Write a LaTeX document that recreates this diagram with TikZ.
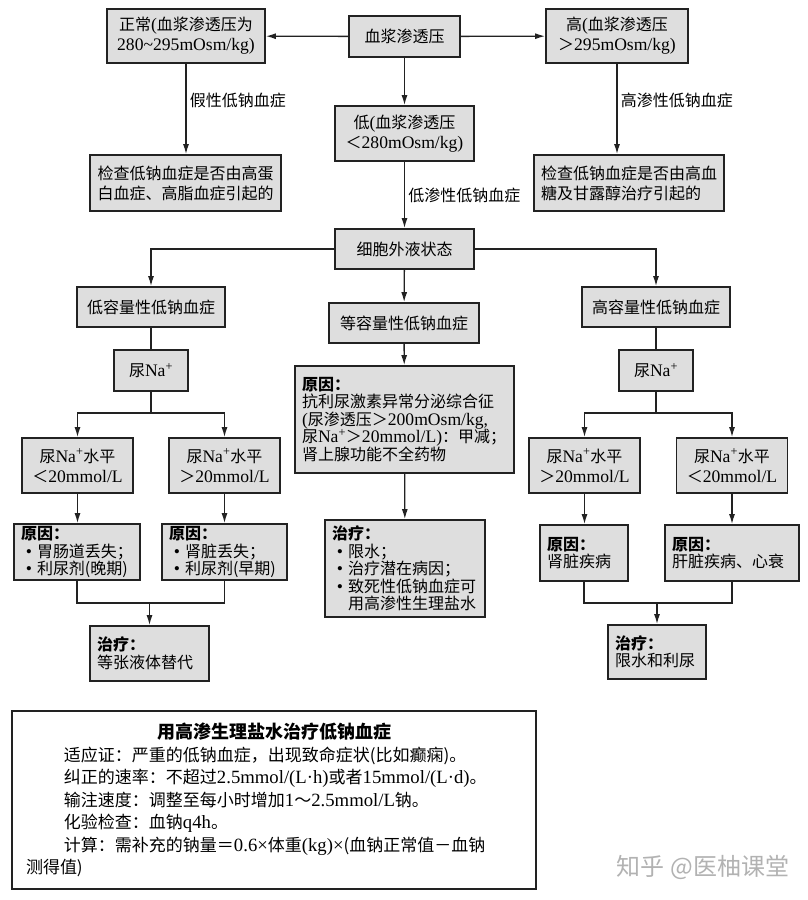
\documentclass[tikz,border=0pt]{standalone}
\usepackage{fontspec}
\setmainfont{Noto Sans CJK SC}
\newfontfamily\tnrfont{Liberation Serif}[Scale=1.1]
\newcommand{\latn}[1]{{\tnrfont #1}}
\newcommand{\itm}{\makebox[16pt][c]{\tnrfont •}}
\newcommand{\plus}{\textsuperscript{+}}
\usetikzlibrary{arrows.meta}
\definecolor{boxgray}{HTML}{DEDEDE}
\definecolor{edgegray}{HTML}{222222}

\begin{document}
\begin{tikzpicture}[x=1pt,y=-1pt,
  >={Latex[length=10pt,width=6pt]},
  every node/.style={font=\fontsize{16}{20}\selectfont},
  box/.style={draw=edgegray,fill=boxgray,line width=1.8pt,align=center,inner sep=2pt},
  listbox/.style={draw=edgegray,fill=boxgray,line width=1.8pt,align=left,inner xsep=7pt,inner ysep=2pt,font=\fontsize{16}{17.5}\selectfont},
  notebox/.style={draw=edgegray,line width=1.4pt,text width=496pt,inner xsep=14pt,minimum height=178pt,font=\fontsize{17}{22.5}\selectfont},
  link/.style={draw=edgegray,line width=1.3pt}]

\useasboundingbox (0,0) rectangle (808,900);

\node (plasma) at (404.5,36.5) [box,minimum width=111pt,minimum height=41pt] {血浆渗透压};
\node (normal) at (186,36) [box,minimum width=158pt,minimum height=54pt] {正常\latn{(}血浆渗透压为\\\latn{280\textasciitilde295mOsm/kg)}};
\node (high) at (617,36) [box,minimum width=142pt,minimum height=54pt] {高\latn{(}血浆渗透压\\＞\latn{295mOsm/kg)}};
\node (low) at (404.5,133.5) [box,minimum width=139pt,minimum height=55pt] {低\latn{(}血浆渗透压\\＜\latn{280mOsm/kg)}};
\node (checkL) at (185.5,183) [box,minimum width=191pt,minimum height=56pt] {检查低钠血症是否由高蛋\\白血症、高脂血症引起的};
\node (checkR) at (629,183) [box,align=left,minimum width=190pt,minimum height=56pt] {检查低钠血症是否由高血\\糖及甘露醇治疗引起的};
\node (ecf) at (404.5,249) [box,minimum width=139pt,minimum height=40pt] {细胞外液状态};
\node (hypo) at (151,307) [box,minimum width=148pt,minimum height=40pt] {低容量性低钠血症};
\node (iso) at (404,323) [box,minimum width=150pt,minimum height=40pt] {等容量性低钠血症};
\node (hyper) at (656,307) [box,minimum width=148pt,minimum height=40pt] {高容量性低钠血症};
\node (naL) at (151,370.5) [box,minimum width=74pt,minimum height=41pt] {尿\latn{Na\plus}};
\node (naR) at (656,370.5) [box,minimum width=74pt,minimum height=41pt] {尿\latn{Na\plus}};
\node (L1) at (77.5,465.5) [box,minimum width=111pt,minimum height=55pt] {尿\latn{Na\plus}水平\\＜\latn{20mmol/L}};
\node (L2) at (224.5,465.5) [box,minimum width=111pt,minimum height=55pt] {尿\latn{Na\plus}水平\\＞\latn{20mmol/L}};
\node (R1) at (584.5,465.5) [box,minimum width=111pt,minimum height=55pt] {尿\latn{Na\plus}水平\\＞\latn{20mmol/L}};
\node (R2) at (732,465.5) [box,minimum width=111pt,minimum height=55pt] {尿\latn{Na\plus}水平\\＜\latn{20mmol/L}};
\node (causeC) at (404.5,419.5) [listbox,text width=205pt,minimum height=107pt] {\textbf{原因：}\\抗利尿激素异常分泌综合征\\\latn{(}尿渗透压＞\latn{200mOsm/kg,}\\尿\latn{Na\plus}＞\latn{20mmol/L)}：甲减；\\肾上腺功能不全药物};
\node (causeL1) at (77,552) [listbox,text width=112pt,minimum height=56pt] {\textbf{原因：}\\\itm 胃肠道丢失；\\\itm 利尿剂(晚期)};
\node (causeL2) at (224.5,552) [listbox,text width=111pt,minimum height=56pt] {\textbf{原因：}\\\itm 肾脏丢失；\\\itm 利尿剂(早期)};
\node (treatL) at (149.5,653.5) [listbox,text width=105pt,minimum height=55pt] {\textbf{治疗：}\\等张液体替代};
\node (treatC) at (405,568.5) [listbox,text width=146pt,minimum height=97pt] {\textbf{治疗：}\\\itm 限水；\\\itm 治疗潜在病因；\\\itm 致死性低钠血症可\\\hspace*{16pt}用高渗性生理盐水};
\node (causeR1) at (584,553) [listbox,text width=74pt,minimum height=56pt] {\textbf{原因：}\\肾脏疾病};
\node (causeR2) at (732,553) [listbox,text width=120pt,minimum height=56pt] {\textbf{原因：}\\肝脏疾病、心衰};
\node (treatR) at (657,652) [listbox,text width=84pt,minimum height=54pt] {\textbf{治疗：}\\限水和利尿};

\coordinate (forkL) at (151,413);
\coordinate (forkR) at (656,413);
\coordinate (joinL) at (149.5,603);
\coordinate (joinR) at (657,603);

\draw [link,->] (plasma) -- (normal);
\draw [link,->] (plasma) -- (high);
\draw [link,->] (plasma) -- (low);
\draw [link,->] (normal) -- (normal |- checkL.north) node [pos=0.4,right] {假性低钠血症};
\draw [link,->] (high) -- (high |- checkR.north) node [pos=0.4,right] {高渗性低钠血症};
\draw [link,->] (low) -- (ecf) node [midway,right] {低渗性低钠血症};
\draw [link,->] (ecf) -| (hypo);
\draw [link,->] (ecf) -| (hyper);
\draw [link,->] (ecf) -- (iso);
\draw [link] (hypo) -- (naL);
\draw [link] (hyper) -- (naR);
\draw [link] (naL) -- (forkL);
\draw [link] (naR) -- (forkR);
\draw [link,->] (forkL) -| (L1);
\draw [link,->] (forkL) -| (L2);
\draw [link,->] (forkR) -| (R1);
\draw [link,->] (forkR) -| (R2);
\draw [link,->] (L1) -- (L1 |- causeL1.north);
\draw [link,->] (L2) -- (L2 |- causeL2.north);
\draw [link,->] (R1) -- (R1 |- causeR1.north);
\draw [link,->] (R2) -- (R2 |- causeR2.north);
\draw [link] (causeL1) |- (joinL);
\draw [link] (causeL2) |- (joinL);
\draw [link,->] (joinL) -- (treatL);
\draw [link] (causeR1) |- (joinR);
\draw [link] (causeR2) |- (joinR);
\draw [link,->] (joinR) -- (treatR);
\draw [link,->] (iso) -- (causeC);
\draw [link,->] (causeC) -- (treatC);

\node (note) at (274,800) [notebox] {{\centering\bfseries\fontsize{18}{22}\selectfont 用高渗生理盐水治疗低钠血症\par}
\hspace*{38pt}适应证：严重的低钠血症，出现致命症状(比如癫痫)。\\
\hspace*{38pt}纠正的速率：不超过\latn{2.5mmol/(L·h)}或者\latn{15mmol/(L·d)}。\\
\hspace*{38pt}输注速度：调整至每小时增加\latn{1}～\latn{2.5mmol/L}钠。\\
\hspace*{38pt}化验检查：血钠\latn{q4h}。\\
\hspace*{38pt}计算：需补充的钠量＝\latn{0.6×}体重\latn{(kg)×}(血钠正常值－血钠\\
测得值)};

\node (mark) at (703,867) [text=black!30,font=\fontsize{24}{24}\selectfont] {知乎 @医柚课堂};

\end{tikzpicture}
\end{document}
